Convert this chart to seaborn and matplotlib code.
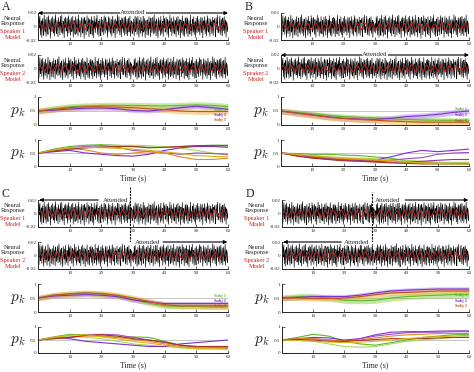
import matplotlib
matplotlib.use("Agg")
import matplotlib.pyplot as plt
import numpy as np
import seaborn as sns

sns.set_style("ticks")
plt.rcParams["font.family"] = ["Liberation Serif", "DejaVu Serif"]
plt.rcParams["mathtext.fontset"] = "cm"

# ── data ────────────────────────────────────────────────────────────────
# neural response samples (arbitrary units, 1 unit = 0.007)
neural_1 = [
    0.6, -1.4, 1.9, -0.3, 2.2, -1.8, 0.4, 1.2, -2.3, 0.9,
    1.7, -0.8, -1.9, 2.4, 0.1, -1.2, 1.5, -2.1, 0.7, 2.0,
    -0.5, -1.7, 2.3, 1.0, -0.6, 1.4, -2.5, 0.3, 1.8, -1.1,
    0.2, 2.1, -1.4, -0.4, 1.6, -2.0, 0.8, 2.5, -0.9, -1.5,
    1.3, 0.4, -2.2, 1.9, -0.1, 1.0, -1.8, 2.2, 0.5, -1.3,
    2.4, -0.7, -1.6, 1.1, 0.6, -2.4, 1.7, -0.2, 2.0, -1.0,
    -0.3, 1.8, -2.1, 0.9, 2.3, -1.4, 0.0, 1.5, -1.9, 0.7,
    1.9, -1.1, -0.4, 2.2, -2.3, 0.8, 1.3, -0.9, -1.7, 2.1,
    0.3, -1.5, 1.6, 0.2, -2.0, 2.4, -0.6, -1.2, 1.4, 0.5,
    -2.2, 1.1, 2.0, -0.8, -1.4, 1.7, -0.1, -2.5, 1.9, 0.6,
    1.2, -1.8, 0.4, 2.3, -1.0, -0.3, 1.8, -2.2, 0.9, 1.5,
    -0.7, -1.6, 2.1, 0.3, -1.9, 1.3, 0.7, -2.4, 2.2, -0.5,
    1.0, -1.3, 1.7, -0.2, 2.4, -1.7, 0.5, 1.1, -2.1, 0.8,
    1.6, -0.9, -2.0, 2.0, 0.2, -1.1, 1.4, -1.8, 0.6, 2.3,
    -0.4, -1.5, 1.9, 1.2, -0.8, 0.9, -2.3, 0.4, 2.1, -1.2,
    0.3, 1.8, -1.6, -0.5, 1.5, -2.1, 0.6, 2.2, -0.7, -1.4,
    1.4, 0.1, -2.4, 1.6, -0.3, 1.2, -1.5, 2.5, 0.2, -1.0,
    2.1, -0.6, -1.8, 1.3, 0.8, -2.2, 1.9, -0.4, 1.7, -1.3,
    -0.2, 2.0, -1.9, 0.7, 2.2, -1.6, 0.1, 1.6, -2.0, 0.5,
    1.8, -1.2, -0.5, 2.4, -2.1, 0.6, 1.2, -0.8, -1.5, 0.9,
]
neural_2 = [
    -0.8, 1.6, -2.0, 0.5, 2.3, -1.1, -0.3, 1.9, -1.7, 0.8,
    2.2, -0.6, -2.3, 1.4, 0.2, -1.5, 2.0, -0.9, 1.1, -2.1,
    0.4, 2.4, -1.2, -0.7, 1.7, -2.4, 0.9, 1.3, -0.4, -1.8,
    1.5, 0.3, -1.9, 2.1, -0.5, 1.0, -2.2, 1.8, 0.6, -1.3,
    -0.1, 2.0, -1.6, 0.7, 2.5, -1.4, -0.2, 1.2, -2.0, 1.6,
    0.9, -1.0, -2.4, 1.9, 0.1, -0.8, 1.4, -1.9, 2.2, -0.6,
    -1.5, 1.1, 0.4, -2.1, 2.3, -0.3, 1.7, -1.2, -0.6, 2.0,
    0.2, -1.7, 1.5, 0.8, -2.3, 1.2, -0.5, 2.4, -1.1, 0.3,
    1.8, -2.0, 0.6, 1.0, -1.4, 2.1, -0.9, -1.6, 1.3, 0.5,
    -2.2, 1.9, 0.1, -1.0, 2.2, -1.8, 0.7, 1.6, -0.2, -2.4,
    1.4, 0.6, -1.3, 2.3, -0.7, -1.9, 1.1, 0.4, -2.1, 1.8,
    -0.4, 2.0, -1.5, 0.9, 1.7, -2.2, 0.2, 1.3, -0.8, -1.6,
    2.4, -0.9, 0.5, -2.0, 1.6, 0.8, -1.2, 2.1, -1.7, 0.1,
    1.0, -2.3, 1.8, -0.2, -1.4, 2.2, 0.3, -1.1, 1.5, -0.6,
    -1.8, 0.7, 2.0, -1.3, 0.4, 1.9, -2.4, 0.9, 1.2, -0.5,
    2.1, -1.6, -0.1, 1.4, -2.0, 0.6, 2.3, -0.8, -1.2, 1.7,
    -0.3, -2.1, 1.6, 0.2, 1.0, -1.5, 2.0, -0.4, -1.9, 1.3,
    0.8, 1.7, -1.0, -2.2, 1.9, 0.5, -0.7, 2.4, -1.3, 0.0,
    -1.4, 1.1, 2.2, -0.6, -1.8, 1.5, 0.3, -2.0, 1.8, 0.7,
    -0.9, 2.1, -1.5, 0.4, 1.3, -2.3, 1.0, 0.6, -1.1, 0.2,
]
# speaker model prediction (units of 0.01)
speaker_model = [
    0.1, 0.4, 0.2, -0.3, -0.5, 0.0, 0.5, 0.3, -0.2, -0.6,
    -0.1, 0.4, 0.6, 0.1, -0.4, -0.3, 0.2, 0.5, 0.0, -0.5,
    -0.2, 0.3, 0.6, 0.2, -0.3, -0.6, -0.1, 0.4, 0.3, -0.2,
    -0.5, 0.1, 0.5, 0.4, -0.1, -0.4, -0.2, 0.3, 0.6, 0.0,
    -0.5, -0.3, 0.2, 0.4, 0.1, -0.4, -0.6, 0.0, 0.5, 0.3,
    -0.2, -0.5, 0.1, 0.6, 0.2, -0.3, -0.4, 0.1, 0.4, -0.1,
    -0.6, -0.2, 0.3, 0.5, 0.0, -0.4, -0.3, 0.2, 0.6, 0.1,
    -0.3, -0.5, 0.0, 0.4, 0.3, -0.2, -0.6, -0.1, 0.5, 0.2,
    -0.4, -0.2, 0.3, 0.6, 0.1, -0.5, -0.3, 0.2, 0.4, -0.1,
    -0.5, 0.0, 0.5, 0.3, -0.3, -0.6, 0.1, 0.4, 0.2, -0.2,
    -0.4, 0.2, 0.6, 0.0, -0.5, -0.2, 0.3, 0.5, -0.1, -0.4,
    0.1, 0.5, 0.2, -0.3, -0.6, 0.0, 0.4, 0.3, -0.2, 0.1,
]

pk_time = [0, 5, 10, 15, 20, 25, 30, 35, 40, 45, 50, 55, 60]
subjects = ["Subj 1", "Subj 2", "Subj 3"]

A_s1 = [0.50, 0.58, 0.65, 0.68, 0.70, 0.70, 0.70, 0.69, 0.68, 0.70, 0.72, 0.70, 0.66]
A_s2 = [0.50, 0.53, 0.57, 0.60, 0.61, 0.58, 0.52, 0.50, 0.55, 0.62, 0.67, 0.62, 0.56]
A_s3 = [0.50, 0.56, 0.62, 0.65, 0.65, 0.64, 0.62, 0.58, 0.55, 0.50, 0.48, 0.48, 0.48]
A_spread = [0.11, 0.07, 0.10]
A_trials = [
    [0.50, 0.65, 0.75, 0.80, 0.82, 0.80, 0.75, 0.72, 0.72, 0.75, 0.78, 0.80, 0.80],
    [0.50, 0.55, 0.62, 0.70, 0.75, 0.79, 0.80, 0.78, 0.74, 0.68, 0.60, 0.50, 0.42],
    [0.50, 0.55, 0.60, 0.50, 0.45, 0.40, 0.38, 0.45, 0.60, 0.70, 0.75, 0.75, 0.72],
    [0.50, 0.60, 0.70, 0.75, 0.78, 0.72, 0.60, 0.55, 0.50, 0.45, 0.50, 0.48, 0.45],
    [0.50, 0.60, 0.68, 0.62, 0.50, 0.45, 0.50, 0.55, 0.50, 0.35, 0.25, 0.25, 0.30],
    [0.50, 0.58, 0.65, 0.70, 0.72, 0.75, 0.75, 0.70, 0.72, 0.75, 0.78, 0.78, 0.78],
    [0.50, 0.62, 0.70, 0.72, 0.70, 0.68, 0.65, 0.60, 0.55, 0.48, 0.40, 0.37, 0.35],
]
A_trial_subj = [0, 0, 1, 1, 2, 2, 2]

B_s1 = [0.50, 0.45, 0.40, 0.34, 0.30, 0.27, 0.25, 0.22, 0.20, 0.18, 0.17, 0.17, 0.17]
B_s2 = [0.50, 0.43, 0.36, 0.29, 0.24, 0.21, 0.20, 0.24, 0.30, 0.33, 0.38, 0.45, 0.50]
B_s3 = [0.50, 0.42, 0.35, 0.28, 0.23, 0.20, 0.17, 0.14, 0.12, 0.10, 0.10, 0.10, 0.10]
B_spread = [0.09, 0.10, 0.11]
B_trials = [
    [0.50, 0.48, 0.45, 0.45, 0.42, 0.40, 0.35, 0.30, 0.20, 0.15, 0.12, 0.10, 0.10],
    [0.50, 0.45, 0.40, 0.35, 0.32, 0.30, 0.28, 0.25, 0.22, 0.18, 0.15, 0.14, 0.14],
    [0.50, 0.45, 0.35, 0.30, 0.25, 0.22, 0.22, 0.35, 0.50, 0.60, 0.55, 0.60, 0.65],
    [0.50, 0.40, 0.32, 0.26, 0.22, 0.20, 0.18, 0.22, 0.28, 0.32, 0.45, 0.50, 0.52],
    [0.50, 0.40, 0.35, 0.30, 0.25, 0.22, 0.18, 0.15, 0.15, 0.18, 0.22, 0.25, 0.25],
    [0.50, 0.42, 0.38, 0.32, 0.28, 0.25, 0.22, 0.20, 0.15, 0.12, 0.10, 0.10, 0.10],
    [0.50, 0.38, 0.30, 0.25, 0.20, 0.18, 0.15, 0.12, 0.10, 0.08, 0.08, 0.08, 0.08],
    [0.50, 0.45, 0.40, 0.35, 0.30, 0.28, 0.25, 0.20, 0.15, 0.12, 0.10, 0.08, 0.08],
]
B_trial_subj = [0, 0, 1, 1, 1, 2, 2, 2]

C_s1 = [0.50, 0.60, 0.65, 0.68, 0.65, 0.58, 0.45, 0.32, 0.22, 0.20, 0.20, 0.18, 0.18]
C_s2 = [0.50, 0.57, 0.60, 0.62, 0.60, 0.55, 0.43, 0.36, 0.30, 0.30, 0.30, 0.30, 0.30]
C_s3 = [0.50, 0.60, 0.65, 0.68, 0.66, 0.60, 0.50, 0.38, 0.26, 0.22, 0.22, 0.22, 0.22]
C_spread = [0.09, 0.08, 0.10]
C_trials = [
    [0.50, 0.62, 0.72, 0.70, 0.65, 0.60, 0.62, 0.60, 0.45, 0.30, 0.20, 0.20, 0.18],
    [0.50, 0.60, 0.65, 0.60, 0.55, 0.45, 0.35, 0.30, 0.25, 0.20, 0.15, 0.15, 0.15],
    [0.50, 0.60, 0.55, 0.45, 0.40, 0.35, 0.30, 0.25, 0.25, 0.35, 0.40, 0.45, 0.50],
    [0.50, 0.58, 0.60, 0.68, 0.72, 0.70, 0.60, 0.50, 0.40, 0.30, 0.25, 0.22, 0.20],
    [0.50, 0.55, 0.60, 0.65, 0.65, 0.60, 0.52, 0.45, 0.35, 0.25, 0.20, 0.20, 0.20],
    [0.50, 0.55, 0.60, 0.68, 0.70, 0.65, 0.55, 0.50, 0.42, 0.30, 0.25, 0.25, 0.25],
    [0.50, 0.60, 0.68, 0.70, 0.62, 0.55, 0.45, 0.38, 0.30, 0.22, 0.18, 0.18, 0.15],
]
C_trial_subj = [0, 0, 1, 1, 2, 2, 2]

D_s1 = [0.50, 0.55, 0.55, 0.50, 0.42, 0.40, 0.42, 0.50, 0.55, 0.58, 0.60, 0.62, 0.62]
D_s2 = [0.50, 0.52, 0.55, 0.55, 0.55, 0.60, 0.68, 0.75, 0.78, 0.80, 0.82, 0.82, 0.82]
D_s3 = [0.50, 0.50, 0.48, 0.48, 0.50, 0.55, 0.62, 0.68, 0.70, 0.72, 0.75, 0.75, 0.75]
D_spread = [0.11, 0.08, 0.09]
D_trials = [
    [0.50, 0.60, 0.72, 0.65, 0.45, 0.35, 0.30, 0.40, 0.50, 0.60, 0.65, 0.70, 0.72],
    [0.50, 0.50, 0.45, 0.35, 0.25, 0.22, 0.25, 0.35, 0.45, 0.50, 0.55, 0.60, 0.62],
    [0.50, 0.55, 0.60, 0.58, 0.50, 0.55, 0.70, 0.80, 0.82, 0.82, 0.84, 0.85, 0.85],
    [0.50, 0.55, 0.55, 0.50, 0.45, 0.55, 0.65, 0.72, 0.78, 0.80, 0.80, 0.82, 0.82],
    [0.50, 0.55, 0.55, 0.50, 0.45, 0.50, 0.58, 0.65, 0.70, 0.72, 0.75, 0.75, 0.75],
    [0.50, 0.52, 0.50, 0.45, 0.45, 0.48, 0.52, 0.55, 0.55, 0.55, 0.58, 0.60, 0.60],
    [0.50, 0.48, 0.45, 0.42, 0.40, 0.42, 0.45, 0.50, 0.55, 0.60, 0.62, 0.65, 0.68],
]
D_trial_subj = [0, 0, 1, 1, 2, 2, 2]

switch_time = 29   # attention switch in C and D (s)

# ── styling ─────────────────────────────────────────────────────────────
W, H = 474, 372
NEURAL_UNIT = 0.007
SUBJ_COLORS = ["#5fb82c", "#7a2fd2", "#c8501c"]
BAND_COLORS = ["#8fd04a", "#b283e8", "#eeae3e"]
TRIAL_SHADES = [
    ["#5db52b", "#a6d95b"],
    ["#7b2fd2", "#a04cc0", "#8a3a9a"],
    ["#e8891e", "#a9341c", "#d8b21a"],
]
MODEL_RED = "#d42020"
TICKS = [10, 20, 30, 40, 50, 60]
ROWS = [(13, 40), (55, 82), (97, 125), (140, 166)]


def rect(l, t, r, b):
    return [l / W, 1 - b / H, (r - l) / W, (b - t) / H]


def style_axes(ax):
    sns.despine(ax=ax)
    ax.set_xlim(0, 60)
    ax.set_xticks(TICKS)
    ax.tick_params(direction="in", length=2, width=0.5, labelsize=3.6, pad=1.2)
    for s in ("left", "bottom"):
        ax.spines[s].set_linewidth(0.7)
    ax.set_xlabel("")
    ax.set_ylabel("")


def trace_axes(fig, box, neural, speaker_no):
    ax = fig.add_axes(rect(*box))
    t_n = np.linspace(0, 60, len(neural))
    t_m = np.linspace(0, 60, len(speaker_model))
    sns.lineplot(x=t_n, y=np.array(neural) * NEURAL_UNIT, ax=ax, color="black",
                 lw=0.45, errorbar=None)
    sns.lineplot(x=t_m, y=np.array(speaker_model) * 0.01, ax=ax,
                 color=MODEL_RED, lw=0.6, errorbar=None)
    style_axes(ax)
    ax.set_ylim(-0.02, 0.02)
    ax.set_yticks([-0.02, 0, 0.02])
    ax.set_yticklabels(["-0.02", "0", "0.02"])
    l, t, r, b = box
    cy = 1 - (t + b) / 2 / H
    fig.text((l - 25) / W, cy + 5.5 / H, "Neural\nResponse", fontsize=4.6,
             ha="center", va="center", linespacing=1.15)
    fig.text((l - 25) / W, cy - 8 / H, f"Speaker {speaker_no}\nModel",
             fontsize=4.6, ha="center", va="center", color=MODEL_RED,
             linespacing=1.15)
    return ax


def pk_label(fig, box):
    l, t, r, b = box
    fig.text((l - 20) / W, 1 - ((t + b) / 2 + 1) / H, r"$p_k$", fontsize=11,
             ha="center", va="center")


def pk_mean_axes(fig, box, means, spread, label_y):
    ax = fig.add_axes(rect(*box))
    ax.axhline(0.5, color="#bdbdbd", lw=0.6, zorder=0)
    for i, m in enumerate(means):
        m = np.array(m)
        ax.fill_between(pk_time, m - spread[i], m + spread[i],
                        color=BAND_COLORS[i], alpha=0.5, lw=0)
    for i, m in enumerate(means):
        sns.lineplot(x=pk_time, y=m, ax=ax, color=SUBJ_COLORS[i], lw=0.8,
                     errorbar=None)
    for i, name in enumerate(subjects):
        ax.text(59.3, label_y[i], name, color=SUBJ_COLORS[i], fontsize=3.2,
                fontweight="bold", ha="right", va="center")
    style_axes(ax)
    ax.set_ylim(0, 1)
    ax.set_yticks([0, 0.5, 1])
    ax.set_yticklabels(["0", "0.5", "1"])
    pk_label(fig, box)
    return ax


def pk_trial_axes(fig, box, trials, trial_subj):
    ax = fig.add_axes(rect(*box))
    ax.axhline(0.5, color="#bdbdbd", lw=0.6, zorder=0)
    seen = [0, 0, 0]
    for tr, s in zip(trials, trial_subj):
        c = TRIAL_SHADES[s][seen[s] % len(TRIAL_SHADES[s])]
        seen[s] += 1
        sns.lineplot(x=pk_time, y=tr, ax=ax, color=c, lw=0.8, errorbar=None)
    style_axes(ax)
    ax.set_ylim(0, 1)
    ax.set_yticks([0, 0.5, 1])
    ax.set_yticklabels(["0", "0.5", "1"])
    ax.set_xlabel("Time (s)", fontsize=5.6, labelpad=2)
    pk_label(fig, box)
    return ax


def attended(ax, kind, text_x, x0=None, x1=None):
    y = 0.02
    arrow = dict(arrowstyle="-|>", lw=0.8, color="black", mutation_scale=5,
                 shrinkA=0, shrinkB=0)
    if kind == "both":
        arrow["arrowstyle"] = "<|-|>"
    ax.annotate("", xy=(x1, y), xytext=(x0, y), arrowprops=arrow,
                annotation_clip=False)
    ax.text(text_x, y, "Attended", fontsize=5, ha="center", va="center",
            bbox=dict(facecolor="white", edgecolor="none", pad=0.3),
            clip_on=False, zorder=5)


fig = plt.figure(figsize=(W / 100, H / 100), dpi=100)

# both speaker rows use the full recorded response (two halves joined)
resp_a = neural_1 + neural_2
resp_b = neural_2 + neural_1

panels = [
    ("A", 38, 228, 0, (resp_a, resp_b), [A_s1, A_s2, A_s3], A_spread,
     A_trials, A_trial_subj, [0.55, 0.36, 0.17]),
    ("B", 281, 469, 0, (resp_b, resp_a), [B_s1, B_s2, B_s3], B_spread,
     B_trials, B_trial_subj, [0.56, 0.37, 0.13]),
    ("C", 38, 228, 187, (resp_a, resp_b), [C_s1, C_s2, C_s3], C_spread,
     C_trials, C_trial_subj, [0.56, 0.39, 0.21]),
    ("D", 282, 469, 187, (resp_b, resp_a), [D_s1, D_s2, D_s3], D_spread,
     D_trials, D_trial_subj, [0.6, 0.4, 0.21]),
]

for letter, left, right, dy, neural, means, spread, trials, tsubj, lab_y in panels:
    boxes = [(left, t + dy, right, b + dy) for t, b in ROWS]
    ax1 = trace_axes(fig, boxes[0], neural[0], 1)
    ax2 = trace_axes(fig, boxes[1], neural[1], 2)
    pk_mean_axes(fig, boxes[2], means, spread, lab_y)
    pk_trial_axes(fig, boxes[3], trials, tsubj)
    fig.text((left - 36) / W, 1 - (dy + 1) / H, letter, fontsize=8.5,
             ha="left", va="top")

    if letter == "A":
        attended(ax1, "both", 30, 0, 60)
    elif letter == "B":
        attended(ax2, "both", 30, 0, 60)
    elif letter == "C":
        attended(ax1, "left", 24.5, 19, 0.4)
        attended(ax2, "right", 34.5, 39.5, 59.8)
    else:
        attended(ax1, "right", 34, 39.5, 59.8)
        attended(ax2, "left", 24, 19, 0.4)

    if letter in ("C", "D"):
        ax1.axvline(switch_time, ymin=-1.56, ymax=1.48 if letter == "C" else 1.3,
                    color="black", lw=0.8, ls=(0, (2, 1)), clip_on=False,
                    zorder=6)

fig.savefig("out.png", dpi=100)
